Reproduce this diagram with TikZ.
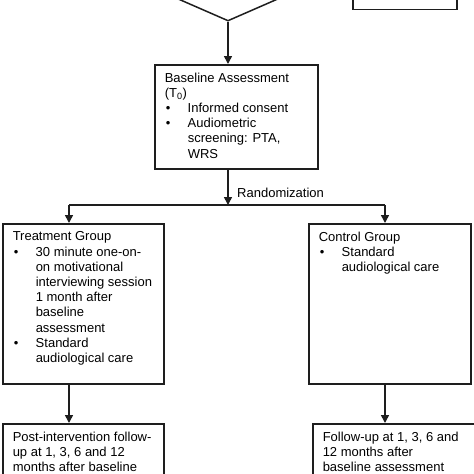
\documentclass[tikz,border=0pt]{standalone}
\usepackage{fontspec}
\setmainfont{Liberation Sans}
\usetikzlibrary{arrows.meta, shapes.geometric}
\definecolor{LN}{RGB}{30,30,30}
\newcommand{\bul}{\makebox[23pt][l]{\hspace{1pt}\textbullet}}
\newcommand{\ind}{\hspace*{23pt}}
\newcommand{\boxtext}[3]{\parbox[t][#1][t]{#2}{\raggedright #3}}

\begin{document}
\begin{tikzpicture}[
  x=1pt, y=-1pt,
  font=\fontsize{13pt}{15.2pt}\selectfont,
  box/.style={draw=LN, line width=1.5pt, inner xsep=10pt, inner ysep=8pt,
              anchor=north west},
  decision/.style={diamond, draw=LN, line width=1.5pt, inner sep=0pt},
  arr/.style={draw=LN, line width=1.5pt, -{Triangle[length=8pt,width=8pt]}},
  lin/.style={draw=LN, line width=1.5pt}
]
\useasboundingbox (0,0) rectangle (474,474);
\clip (0,0) rectangle (474,474);

% cut-off shapes above
\node[decision, minimum width=320pt, minimum height=140pt] (decide) at (228,-49) {};
\node[box, anchor=south west, minimum width=104pt, minimum height=60pt] (excl) at (352,10) {};

\node[box] (base) at (154,64) {\boxtext{88pt}{143pt}{Baseline Assessment\\(T\textsubscript{0})\\\bul Informed consent\\\bul Audiometric\\\ind screening: PTA,\\\ind WRS}};

\node[box] (treat) at (2,223) {\boxtext{144pt}{141pt}{Treatment Group\\\bul 30 minute one-on-\\\ind on motivational\\\ind interviewing session\\\ind 1 month after\\\ind baseline\\\ind assessment\\\bul Standard\\\ind audiological care}};
\node[box] (ctrl) at (308,223) {\boxtext{144pt}{142pt}{Control Group\\\bul Standard\\\ind audiological care}};

\node[box] (fuT) at (2,423) {\boxtext{60pt}{141pt}{Post-intervention follow-\\up at 1, 3, 6 and 12\\months after baseline}};
\node[box] (fuC) at (312,423) {\boxtext{60pt}{144pt}{Follow-up at 1, 3, 6 and\\12 months after\\baseline assessment}};

\coordinate (split) at (228,205);
\coordinate (tl) at (69,205);
\coordinate (tr) at (385,205);

\draw[arr] (decide.south) -- (base.north -| decide.south);
\draw[arr] (base.south -| split) -- (split);
\node[anchor=west, inner sep=0pt] (rand) at (237,193) {Randomization};
\draw[lin] (tl) -- (tr);
\draw[arr] (tl) -- (tl |- treat.north);
\draw[arr] (tr) -- (tr |- ctrl.north);
\draw[arr] (tl |- treat.south) -- (tl |- fuT.north);
\draw[arr] (tr |- ctrl.south) -- (tr |- fuC.north);
\end{tikzpicture}
\end{document}
